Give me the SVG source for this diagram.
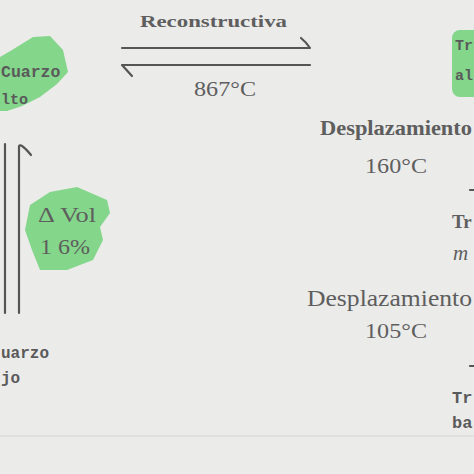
<svg xmlns="http://www.w3.org/2000/svg" width="474" height="474" viewBox="0 0 474 474">
  <style>
    .serif { font-family: "Liberation Serif", "Times New Roman", serif; fill: #5e5e5e; }
    .mono { font-family: "Liberation Mono", "Courier New", monospace; font-weight: bold; fill: #5a5a5a; }
    .hl { fill: #84d68b; }
    .ln { fill: none; stroke: #555; stroke-width: 2.2; stroke-linecap: round; stroke-linejoin: round; }
  </style>
  <rect x="0" y="0" width="474" height="474" fill="#ebebea"/>
  <line x1="0" y1="436" x2="474" y2="436" stroke="#dcdcdb" stroke-width="1.5"/>

  <g id="connectors">
    <path class="ln" d="M122,48 L310,48 Q306,42 301,38"/>
    <path class="ln" d="M310,65 L122,65 L132,76"/>
    <path class="ln" d="M5,313 L5,144"/>
    <path class="ln" d="M19,313 L19,146 Q21,143 31,155"/>
    <path class="ln" d="M470,190 L474,190" stroke-width="1.5"/>
    <path class="ln" d="M470,366 L474,366" stroke-width="1.5"/>
  </g>

  <g id="label-reconstructiva">
    <text class="serif" x="140" y="27" font-size="17" font-weight="bold" textLength="147" lengthAdjust="spacingAndGlyphs" fill="#6a6a6a">Reconstructiva</text>
    <text class="serif" x="225" y="96" font-size="21" text-anchor="middle" textLength="62" lengthAdjust="spacingAndGlyphs">867°C</text>
  </g>

  <g id="cuarzo-alto">
    <polygon class="hl" points="0,57 12,50 33,37 50,36 63,50 68,72 57,84 40,97 22,106 7,111 0,111"/>
    <text class="mono" x="1" y="77" font-size="16.5">Cuarzo</text>
    <text class="mono" x="1" y="104" font-size="15">lto</text>
  </g>

  <g id="delta-vol">
    <polygon class="hl" points="30,205 50,192 77,187 107,200 110,213 100,227 103,240 93,260 67,270 40,270 32,250 25,230"/>
    <text class="serif" x="38" y="222" font-size="21" textLength="58" lengthAdjust="spacingAndGlyphs">Δ Vol</text>
    <text class="serif" x="40" y="254" font-size="21" textLength="50" lengthAdjust="spacingAndGlyphs">1 6%</text>
  </g>

  <g id="cuarzo-bajo">
    <text class="mono" x="1" y="358" font-size="16">uarzo</text>
    <text class="mono" x="1" y="383" font-size="16">jo</text>
  </g>

  <g id="tridimita-alta">
    <rect class="hl" x="452" y="30" width="34" height="67" rx="8"/>
    <text class="mono" x="455" y="50" font-size="15">Tr</text>
    <text class="mono" x="455" y="80" font-size="15">al</text>
  </g>

  <g id="label-desplazamiento-160">
    <text class="serif" x="320" y="135" font-size="22" font-weight="bold" textLength="152" lengthAdjust="spacingAndGlyphs">Desplazamiento</text>
    <text class="serif" x="396" y="173" font-size="22" text-anchor="middle" textLength="62" lengthAdjust="spacingAndGlyphs">160°C</text>
  </g>

  <g id="tridimita-media">
    <text class="serif" x="452" y="228" font-size="19" font-weight="bold" fill="#555">Tr</text>
    <text class="serif" x="453" y="260" font-size="21" font-style="italic" fill="#555">m</text>
  </g>

  <g id="label-desplazamiento-105">
    <text class="serif" x="307" y="306" font-size="23" textLength="165" lengthAdjust="spacingAndGlyphs">Desplazamiento</text>
    <text class="serif" x="396" y="338" font-size="22" text-anchor="middle" textLength="62" lengthAdjust="spacingAndGlyphs">105°C</text>
  </g>

  <g id="tridimita-baja">
    <text class="mono" x="452" y="403" font-size="17">Tr</text>
    <text class="mono" x="452" y="428" font-size="17">ba</text>
  </g>
</svg>
